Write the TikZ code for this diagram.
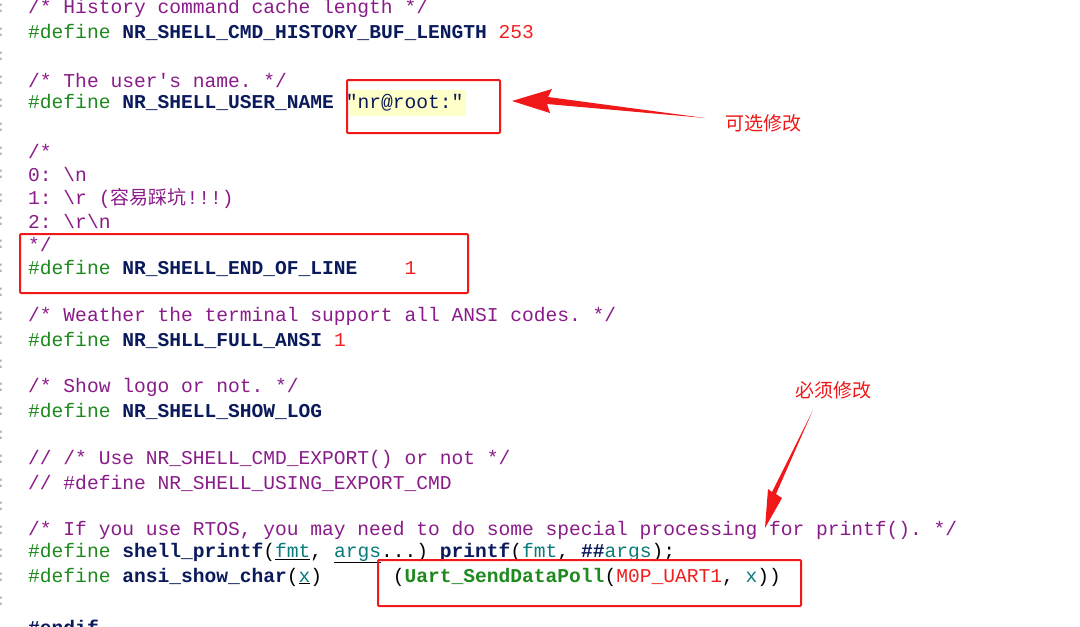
\documentclass[tikz,border=0pt]{standalone}
\usepackage{fontspec}
\setmonofont{Liberation Mono}
\newfontfamily\cjk{Noto Sans CJK SC}
\definecolor{cm}{HTML}{8A1C8A}
\definecolor{kw}{HTML}{1E8A1E}
\definecolor{id}{HTML}{0A1A5A}
\definecolor{nm}{HTML}{F02020}
\definecolor{ar}{HTML}{F01818}
\definecolor{tl}{HTML}{0A7A7A}
\definecolor{hl}{HTML}{FFFFC8}
\newcommand\C[1]{\textcolor{cm}{#1}}
\newcommand\K{\textcolor{kw}{\#define}}
\newcommand\I[1]{\textcolor{id}{\bfseries #1}}
\newcommand\N[1]{\textcolor{nm}{#1}}
\begin{document}
\begin{tikzpicture}[x=1pt,y=-1pt,
  code/.style={anchor=west,inner sep=0pt,font=\ttfamily\fontsize{19.6}{20}\selectfont},
  lno/.style={anchor=west,inner sep=0pt,text=gray!60,font=\ttfamily\fontsize{16}{16}\selectfont},
  redbox/.style={draw=ar,line width=2pt,rounded corners=1pt},
  lab/.style={text=ar,font=\cjk\fontsize{19}{19}\selectfont}]
\useasboundingbox (0,0) rectangle (1080,627);
\fill[white] (0,0) rectangle (1080,627);
\fill[hl] (349,90) rectangle (466,116);
\foreach \y in {8,32,56,80,103,127,151,174,198,221,244,268,292,316,340,364,387,411,435,459,483,506,530,553,577,601}
  \node[lno] at (-4,\y) {:};
\node[code] (l1) at (28,8) {\C{/* History command cache length */}};
\node[code] (l2) at (28,32) {\K\ \I{NR\_SHELL\_CMD\_HISTORY\_BUF\_LENGTH} \N{253}};
\node[code] (l4) at (28,80) {\C{/* The user's name. */}};
\node[code] (l5) at (28,103) {\K\ \I{NR\_SHELL\_USER\_NAME} \textcolor{id}{"nr@root:"}};
\node[code] (l7) at (28,151) {\C{/*}};
\node[code] (l8) at (28,174) {\C{0: \textbackslash n}};
\node[code] (l9) at (28,198) {\C{1: \textbackslash r ({\cjk\fontsize{19}{19}\selectfont 容易踩坑}!!!)}};
\node[code] (l10) at (28,221) {\C{2: \textbackslash r\textbackslash n}};
\node[code] (l11) at (28,244) {\C{*/}};
\node[code] (l12) at (28,268) {\K\ \I{NR\_SHELL\_END\_OF\_LINE}\ \ \ \ \N{1}};
\node[code] (l14) at (28,316) {\C{/* Weather the terminal support all ANSI codes. */}};
\node[code] (l15) at (28,340) {\K\ \I{NR\_SHLL\_FULL\_ANSI} \N{1}};
\node[code] (l17) at (28,387) {\C{/* Show logo or not. */}};
\node[code] (l18) at (28,411) {\K\ \I{NR\_SHELL\_SHOW\_LOG}};
\node[code] (l20) at (28,459) {\C{// /* Use NR\_SHELL\_CMD\_EXPORT() or not */}};
\node[code] (l21) at (28,483) {\C{// \#define NR\_SHELL\_USING\_EXPORT\_CMD}};
\node[code] (l23) at (28,530) {\C{/* If you use RTOS, you may need to do some special processing for printf(). */}};
\node[code] (l24) at (28,553) {\K\ \I{shell\_printf}(\underline{\textcolor{tl}{fmt}}, \underline{\textcolor{tl}{args}}...) \I{printf}(\textcolor{tl}{fmt}, \I{\#\#}\textcolor{tl}{args});};
\node[code] (l25) at (28,577) {\K\ \I{ansi\_show\_char}(\underline{\textcolor{tl}{x}})\ \ \ \ \ \ (\textcolor{kw}{\bfseries Uart\_SendDataPoll}(\N{M0P\_UART1}, \textcolor{tl}{x}))};
\node[code] (l27) at (28,627) {\textcolor{id}{\bfseries\#endif}};
\draw[redbox] (347,80) rectangle (500,133);
\draw[redbox] (20,234) rectangle (468,293);
\draw[redbox] (378,560) rectangle (801,606);
\coordinate (t1) at (512,101);
\coordinate (s1) at (705,118);
\fill[ar] (t1) -- (552,89) -- (548,97) -- (s1) -- (547,104) -- (550,113) -- cycle;
\node[lab] (lb1) at (763,123) {可选修改};
\coordinate (t2) at (765,528);
\coordinate (s2) at (813,410);
\fill[ar] (t2) -- (768,489) -- (772,492) -- (s2) -- (776,494) -- (782,498) -- cycle;
\node[lab] (lb2) at (833,390) {必须修改};
\end{tikzpicture}
\end{document}
